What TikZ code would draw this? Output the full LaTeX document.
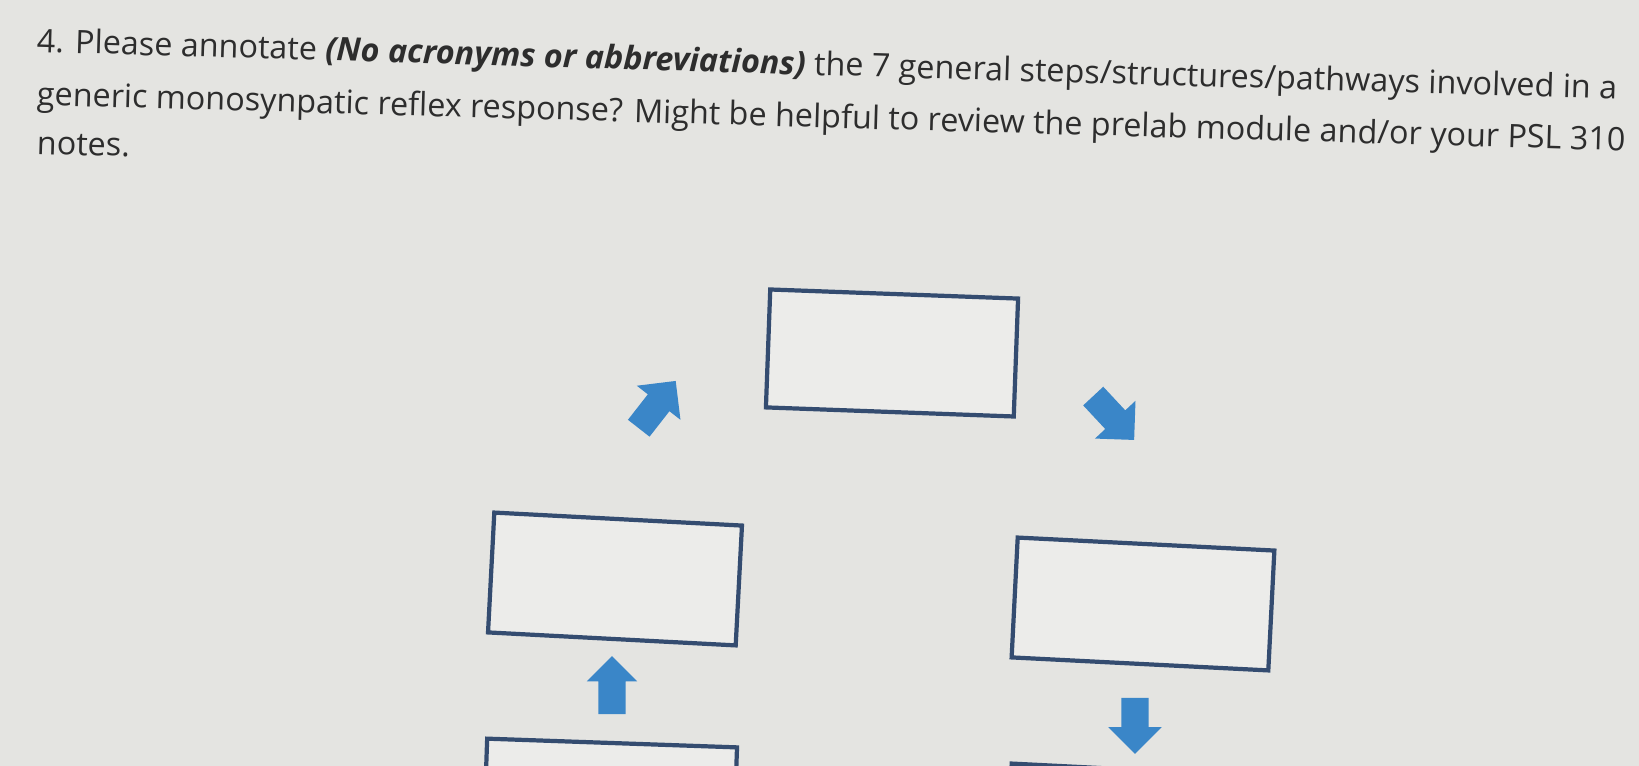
\documentclass[tikz,border=0pt]{standalone}
\usepackage{fontspec}
\setmainfont{Open Sans}
\usetikzlibrary{shapes.arrows}
\definecolor{boxline}{RGB}{52,76,112}
\definecolor{arrowblue}{RGB}{58,134,200}
\definecolor{paper}{RGB}{228,228,225}
\definecolor{ink}{RGB}{45,45,45}

\begin{document}
\begin{tikzpicture}
	\tikzset{answerbox/.style={draw=boxline,line width=1.2pt,fill=white!30!paper}}
	\tikzset{bluearrow/.style={single arrow,fill=arrowblue,inner sep=0.13cm,single arrow head extend=0.13cm,minimum height=0.59cm}}
	\tikzset{qline/.style={anchor=base west,inner sep=0pt,text=ink,font=\fontsize{9.2}{14}\selectfont}}

	\fill[paper] (0,0) rectangle (16.39,-7.66);
	\useasboundingbox (0,0) rectangle (16.39,-7.66);

	% question text
	\node[qline,rotate=-1.7] (line1) at (0.36,-0.52) {4. Please annotate \textbf{\textit{(No acronyms or abbreviations)}} the 7 general steps/structures/pathways involved in a};
	\node[qline,rotate=-1.65] (line2) at (0.36,-1.05) {generic monosynpatic reflex response? Might be helpful to review the prelab module and/or your PSL 310};
	\node[qline,rotate=-1.65] (line3) at (0.36,-1.54) {notes.};

	% empty answer boxes
	\node[answerbox,minimum width=2.48cm,minimum height=1.18cm,rotate=-2.1] (topbox) at (8.92,-3.53) {};
	\node[answerbox,minimum width=2.48cm,minimum height=1.20cm,rotate=-3.0] (leftbox) at (6.15,-5.79) {};
	\node[answerbox,minimum width=2.57cm,minimum height=1.20cm,rotate=-2.9] (rightbox) at (11.43,-6.04) {};
	\node[answerbox,minimum width=2.50cm,minimum height=1.20cm,rotate=-2.0] (lowleftbox) at (6.10,-8.03) {};
	\node[answerbox,minimum width=2.57cm,minimum height=1.20cm,rotate=-2.9] (lowrightbox) at (11.37,-8.30) {};

	% block arrows
	\node[bluearrow,single arrow head extend=0.115cm,minimum height=0.58cm,rotate=90] (arrowup) at (6.12,-6.92) {};
	\node[bluearrow,minimum height=0.56cm,rotate=-90] (arrowdown) at (11.35,-7.19) {};
	\node[bluearrow,single arrow head extend=0.14cm,minimum height=0.60cm,rotate=52] (arrowne) at (6.53,-4.10) {};
	\node[bluearrow,single arrow head extend=0.14cm,minimum height=0.60cm,rotate=-47] (arrowse) at (11.09,-4.13) {};

\end{tikzpicture}
\end{document}
